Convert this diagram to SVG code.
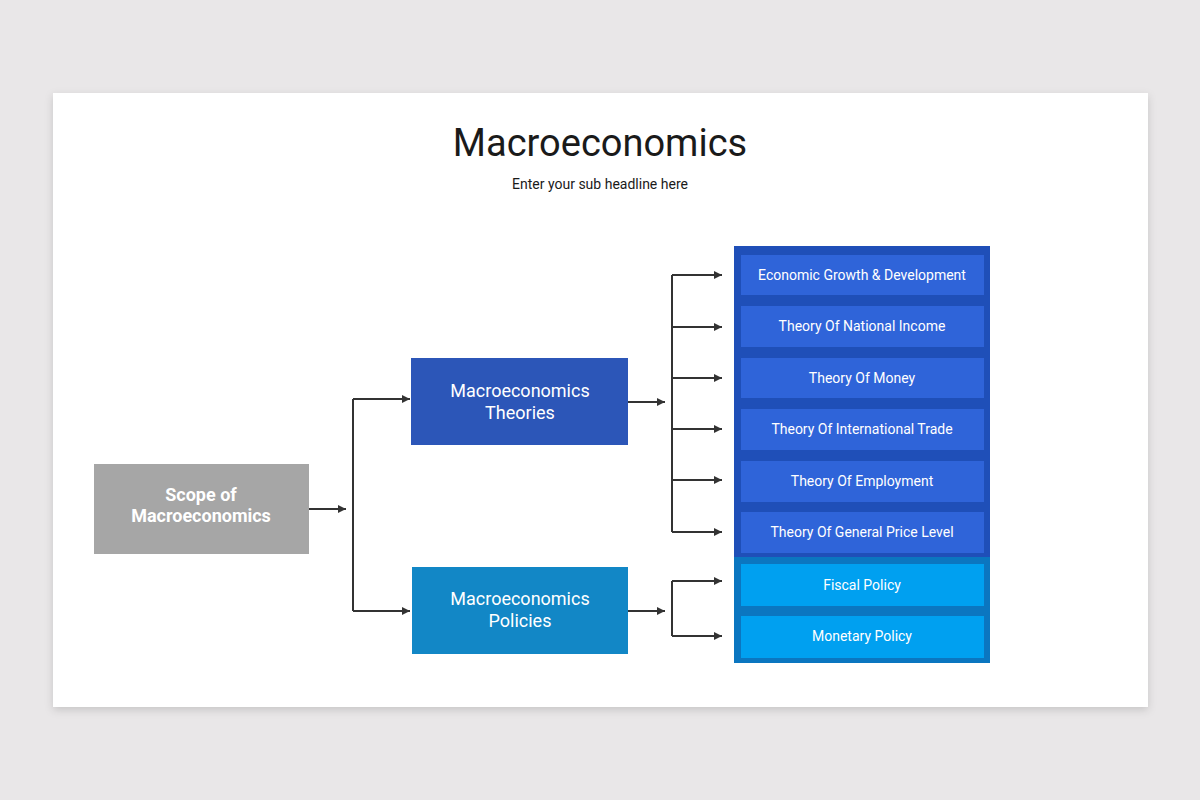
<svg xmlns="http://www.w3.org/2000/svg" width="1200" height="800" viewBox="0 0 1200 800">
<defs>
<filter id="sh" x="-5%" y="-5%" width="110%" height="115%"><feDropShadow dx="0" dy="3" stdDeviation="4" flood-color="#000" flood-opacity="0.15"/></filter>
<marker id="ar" viewBox="0 0 10 10" refX="10" refY="5" markerWidth="8" markerHeight="8" markerUnits="userSpaceOnUse" orient="auto"><path d="M0,0 L10,5 L0,10 z" fill="#333"/></marker>
<style>
.t{font-family:Roboto,"Liberation Sans",sans-serif;fill:#fff;text-anchor:middle}
.s{font-size:14px}
.m{font-size:18px}
.c{fill:none;stroke:#333;stroke-width:2}
.d{fill:#2f64d9}
.l{fill:#00a0f0}
</style>
</defs>
<rect width="1200" height="800" fill="#e9e7e8"/>
<rect x="53" y="93" width="1095" height="614" fill="#fff" filter="url(#sh)"/>
<text x="600" y="156" font-family="Roboto,'Liberation Sans',sans-serif" font-size="38" fill="#1a1a1a" text-anchor="middle">Macroeconomics</text>
<text x="600" y="189" font-family="Roboto,'Liberation Sans',sans-serif" font-size="14" fill="#1a1a1a" text-anchor="middle">Enter your sub headline here</text>
<g id="container">
<rect x="734" y="246" width="256" height="311" fill="#1f4fb8"/>
<rect x="734" y="557" width="256" height="106" fill="#0b76c0"/>
</g>
<g id="scope"><rect x="94" y="464" width="215" height="90" fill="#a6a6a6"/><text class="t m" x="201" y="501" font-weight="bold" font-size="17">Scope of</text><text class="t m" x="201" y="522" font-weight="bold" font-size="17">Macroeconomics</text></g>
<g id="theories"><rect x="411" y="358" width="217" height="87" fill="#2c56b8"/><text class="t m" x="520" y="397">Macroeconomics</text><text class="t m" x="520" y="419">Theories</text></g>
<g id="policies"><rect x="412" y="567" width="216" height="87" fill="#1287c6"/><text class="t m" x="520" y="605">Macroeconomics</text><text class="t m" x="520" y="627">Policies</text></g>
<g id="t1"><rect class="d" x="741" y="255" width="243" height="40"/><text class="t s" x="862" y="280">Economic Growth &amp; Development</text></g>
<g id="t2"><rect class="d" x="741" y="306" width="243" height="41"/><text class="t s" x="862" y="331">Theory Of National Income</text></g>
<g id="t3"><rect class="d" x="741" y="358" width="243" height="40"/><text class="t s" x="862" y="383">Theory Of Money</text></g>
<g id="t4"><rect class="d" x="741" y="409" width="243" height="41"/><text class="t s" x="862" y="434">Theory Of International Trade</text></g>
<g id="t5"><rect class="d" x="741" y="461" width="243" height="41"/><text class="t s" x="862" y="486">Theory Of Employment</text></g>
<g id="t6"><rect class="d" x="741" y="512" width="243" height="41"/><text class="t s" x="862" y="537">Theory Of General Price Level</text></g>
<g id="p1"><rect class="l" x="741" y="564" width="243" height="42"/><text class="t s" x="862" y="590">Fiscal Policy</text></g>
<g id="p2"><rect class="l" x="741" y="616" width="243" height="42"/><text class="t s" x="862" y="641">Monetary Policy</text></g>
<g id="connectors">
<path class="c" d="M309,509 H346" marker-end="url(#ar)"/>
<path class="c" d="M353,399 V611"/>
<path class="c" d="M353,399 H410" marker-end="url(#ar)"/>
<path class="c" d="M353,611 H410" marker-end="url(#ar)"/>
<path class="c" d="M628,402 H665" marker-end="url(#ar)"/>
<path class="c" d="M672,275 V532"/>
<path class="c" d="M672,275 H722" marker-end="url(#ar)"/>
<path class="c" d="M672,327 H722" marker-end="url(#ar)"/>
<path class="c" d="M672,378 H722" marker-end="url(#ar)"/>
<path class="c" d="M672,429 H722" marker-end="url(#ar)"/>
<path class="c" d="M672,480 H722" marker-end="url(#ar)"/>
<path class="c" d="M672,532 H722" marker-end="url(#ar)"/>
<path class="c" d="M628,611 H665" marker-end="url(#ar)"/>
<path class="c" d="M672,581 V636"/>
<path class="c" d="M672,581 H722" marker-end="url(#ar)"/>
<path class="c" d="M672,636 H722" marker-end="url(#ar)"/>
</g>
</svg>
